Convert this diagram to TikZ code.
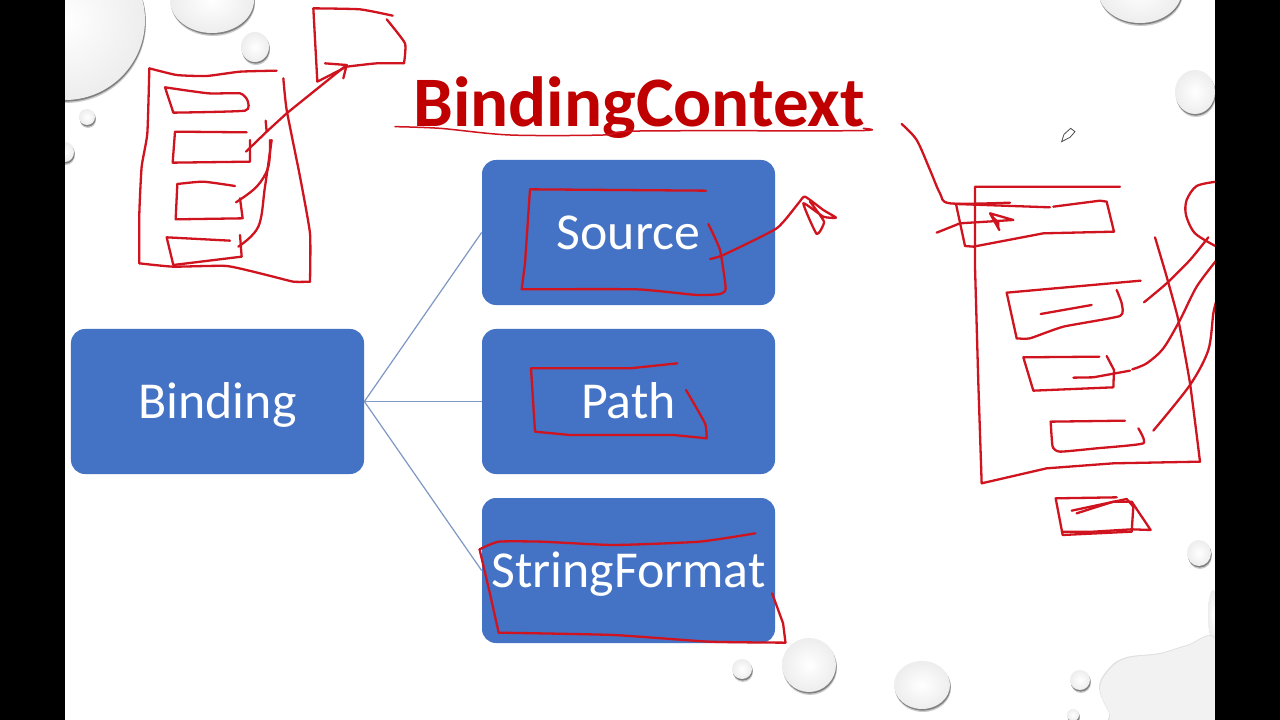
\documentclass[tikz,border=0pt]{standalone}
\usepackage{fontspec}
\setmainfont{Carlito}
\definecolor{boxblue}{HTML}{4472C4}
\definecolor{inkred}{HTML}{D0141F}
\definecolor{titlered}{HTML}{C00000}
\definecolor{linkblue}{HTML}{7F97C4}
\begin{document}
\begin{tikzpicture}[x=0.2mm,y=-0.2mm,
   blockbox/.style={draw=none,fill=boxblue,rounded corners=2.8mm,minimum width=58.6mm,minimum height=29mm,
      inner sep=0pt,text=white,text height=19.2pt,text depth=0pt,font=\fontsize{29.5}{32}\selectfont},
   titletext/.style={inner sep=0pt,text=titlered,font=\fontsize{40.4}{44}\selectfont\bfseries},
   ink/.style={draw=inkred,line width=0.46mm,line cap=round,line join=round},
   link/.style={draw=linkblue,line width=0.24mm},
   dropfill/.style={inner color=white,outer color=black!7}]
\useasboundingbox (0,0) rectangle (1280,720);
\fill [white] (0,0) rectangle (1280,720);

% the drops
\foreach \cx/\cy/\rx/\ry in {65/20/80/80,212/0/42/33,255/47/14/15,87/117/8/8,65/152/9/10,
   1140/-10/42/33,1195/92/20/22,1199/553/12/13,809/665/27/27,922/685/28/24,
   742/669/10/10,1080/680/10/10,1073/715/6/6,1213/615/5/25}
{
   \fill [black!20] (\cx+1,\cy+3) ellipse [x radius=\rx,y radius=\ry];
   \fill [black!50] (\cx+.7,\cy+1.6) ellipse [x radius=\rx,y radius=\ry];
   \shade [dropfill] (\cx,\cy) ellipse [x radius=\rx,y radius=\ry];
}
\fill [black!12] plot [smooth cycle,tension=.6] coordinates
   {(1216,640) (1187,645) (1160,653) (1127,657) (1110,667) (1099,687) (1109,713) (1117,724) (1216,724)};
\fill [black!5] plot [smooth cycle,tension=.6] coordinates
   {(1216,641) (1187,646) (1160,654) (1128,658) (1111,668) (1100,688) (1110,714) (1118,725) (1216,725)};

% the blocks
\node [blockbox] (binding) at (217.5,401.5) {Binding};
\node [blockbox] (source) at (628.5,232.5) {Source};
\node [blockbox] (path) at (628.5,401.5) {Path};
\node [blockbox] (format) at (628.5,570.5) {StringFormat};
\draw [link] (binding.east)--(source.west);
\draw [link] (binding.east)--(path.west);
\draw [link] (binding.east)--(format.west);

\node [titletext] (title) at (639,108) {BindingContext};

% the title underline
\begin{scope}[shift={(390,60)},scale=1/3]
\draw [ink,line width=0.3mm] plot [smooth,tension=.5] coordinates
   {(15,200) (150,205) (360,225) (640,225) (750,213) (1400,212) (1420,205)};
\end{scope}

% the left sketch
\begin{scope}[shift={(60,0)},scale=1/3]
\draw [ink] plot [smooth,tension=.3] coordinates {(650,212) (540,215) (440,228) (350,225) (268,205)};
\draw [ink] plot [smooth,tension=.3] coordinates {(268,205) (262,400) (245,500) (238,640) (238,790)};
\draw [ink] plot [smooth,tension=.3] coordinates {(238,790) (340,800) (500,798) (620,825) (700,845) (750,845)};
\draw [ink] plot [smooth,tension=.3] coordinates {(750,845) (750,700) (720,530) (680,330) (670,235)};
\draw [ink] plot [smooth,tension=.3] coordinates {(315,262) (445,280) (540,280) (562,300) (555,332) (340,338)};
\draw [ink] (340,338)--(315,262);
\draw [ink] (560,397)--(345,395)--(338,488)--(570,485)--(570,420);
\draw [ink] (558,455)--(620,395)--(617,362);
\draw [ink] (620,395)--(680,340)--(860,195);
\draw [ink] (795,190)--(860,195)--(850,235);
\draw [ink] plot [smooth,tension=.3] coordinates {(998,47) (900,28) (760,25)};
\draw [ink] (760,25)--(772,245)--(860,200);
\draw [ink] plot [smooth,tension=.3] coordinates {(860,200) (950,190) (1032,190)};
\draw [ink] plot [smooth,tension=.3] coordinates {(1032,190) (1035,130) (980,58)};
\draw [ink] plot [smooth,tension=.3] coordinates {(525,558) (430,545) (352,552)};
\draw [ink] (352,552)--(347,658)--(548,655)--(540,595);
\draw [ink] plot [smooth,tension=.6] coordinates {(528,607) (590,560) (625,500) (630,420)};
\draw [ink] (510,722)--(320,712)--(340,795)--(545,770)--(540,705);
\draw [ink] plot [smooth,tension=.6] coordinates {(535,740) (595,680) (615,560) (635,420)};
\end{scope}

% the source, path and format marks
\begin{scope}[shift={(470,150)},scale=1/3]
\draw [ink] (708,122)--(180,118)--(165,340)--(155,418);
\draw [ink] plot [smooth,tension=.3] coordinates {(155,418) (500,418) (680,435) (750,432) (767,415) (750,300) (715,222)};
\draw [ink] plot [smooth,tension=.3] coordinates {(720,327) (760,315) (920,235) (985,160) (1005,140) (1060,180) (1098,203) (1060,200) (1000,160) (1040,252) (1062,215) (1020,155)};
\draw [ink] (622,640)--(480,655)--(183,655)--(195,845)--(300,855)--(610,855)--(710,865);
\draw [ink] plot [smooth,tension=.3] coordinates {(710,865) (705,820) (648,720)};
\end{scope}
\begin{scope}[shift={(470,490)},xscale=.478,yscale=1/3]
\draw [ink] plot [smooth,tension=.3] coordinates {(597,130) (480,155) (300,165) (150,155) (60,155) (20,178)};
\draw [ink] (20,178)--(40,300)--(60,428);
\draw [ink] plot [smooth,tension=.3] coordinates {(60,428) (300,435) (500,455) (660,458)};
\draw [ink] (660,458)--(655,400)--(632,310);
\end{scope}

% the right sketch
\begin{scope}[shift={(880,100)},scale=1/3]
\draw [ink] plot [smooth,tension=.3] coordinates {(825,412) (860,530) (895,660) (930,850) (960,1085)};
\draw [ink] (960,1085)--(700,1090)--(500,1105)--(305,1150)--(295,850)--(285,500)--(285,260)--(720,260);
\draw [ink] plot [smooth,tension=.5] coordinates {(1010,245) (950,258) (920,300) (918,345) (945,400) (1010,440)};
\draw [ink] plot [smooth,tension=.4] coordinates {(792,607) (860,550) (930,480) (985,412)};
\draw [ink] plot [smooth,tension=.5] coordinates {(757,808) (800,790) (850,745) (900,660) (950,560) (1010,480)};
\draw [ink] (580,833)--(640,832)--(750,812);
\draw [ink] plot [smooth,tension=.5] coordinates {(820,992) (930,855) (985,750) (1000,640) (1010,600)};
\draw [ink] plot [smooth,tension=.5] coordinates {(65,72) (110,120) (150,210) (180,280) (210,310) (390,308)};
\draw [ink] (228,312)--(510,322);
\draw [ink] (520,320)--(660,302)--(680,305)--(702,395)--(490,400)--(280,440)--(255,438)--(228,312);
\draw [ink] (170,398)--(240,370)--(400,360)--(330,340)--(358,390)--(335,345);
\fill [inkred] (335,345)--(358,365)--(358,390)--cycle;
\draw [ink] (782,542)--(380,578)--(410,715);
\draw [ink] plot [smooth,tension=.3] coordinates {(410,715) (450,715) (550,680) (720,648) (725,610) (710,570)};
\draw [ink] (482,642)--(635,615);
\draw [ink] (658,770)--(430,772)--(460,872)--(700,862)--(702,810)--(680,768);
\draw [ink] (735,962)--(512,965);
\draw [ink] plot [smooth,tension=.3] coordinates {(512,965) (518,1040) (540,1055) (650,1045) (790,1030) (775,985)};
\draw [ink] (710,1192)--(527,1195)--(548,1305)--(755,1295)--(760,1220)--(740,1197)--(575,1232);
\draw [ink] (590,1240)--(700,1205)--(755,1205)--(812,1290)--(755,1288)--(640,1295)--(548,1295);
% the pencil
\draw [black!70,line width=0.16mm,fill=white] (545,125)--(552,103)--(572,85)--(585,95)--(570,112)--cycle;
\end{scope}

% the black bars
\fill [black] (0,0) rectangle (65,720);
\fill [black] (1215,0) rectangle (1280,720);
\end{tikzpicture}
\end{document}
